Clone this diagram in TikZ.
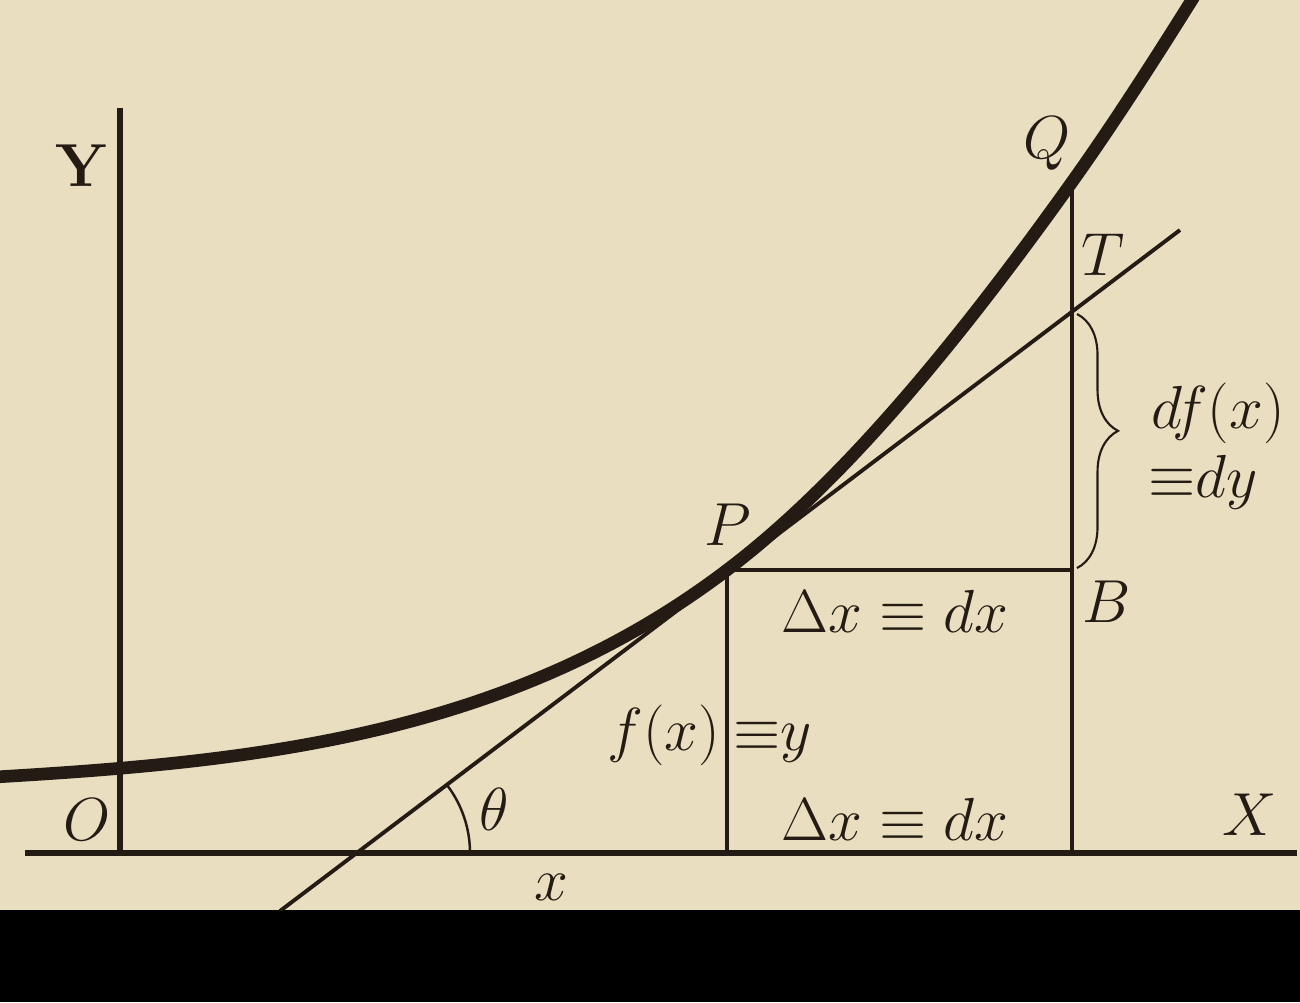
\documentclass[tikz,border=0pt]{standalone}
\usepackage{amsmath}
\usepackage{amssymb}
\usepackage{xcolor}
\usepackage{tikz}
\usetikzlibrary{positioning,calc,decorations.pathreplacing}
\definecolor{paper}{RGB}{233,222,192}
\definecolor{ink}{RGB}{36,28,20}

\begin{document}
\begin{tikzpicture}[x=0.01cm, y=-0.01cm,
	lbl/.style={inner sep=0pt, anchor=base, text=ink, font=\fontsize{18}{20}\selectfont},
	axis/.style={draw=ink, line width=1.5pt},
	rule/.style={draw=ink, line width=1.1pt},
	graph/.style={draw=ink, line width=3.6pt}]
	\useasboundingbox (0,0) rectangle (1300,1002);
	\fill[paper] (0,0) rectangle (1300,910);
	\fill[black] (0,910) rectangle (1300,1002);

	\coordinate (o) at (120,853);
	\coordinate (ytop) at (120,108);
	\coordinate (xl) at (25,853);
	\coordinate (xr) at (1297,853);
	\coordinate (p) at (727,570);
	\coordinate (q) at (1072,182);
	\coordinate (t) at (1072,312);
	\coordinate (b) at (1072,570);
	\coordinate (pf) at (727,853);
	\coordinate (bf) at (1072,853);
	\coordinate (a) at (358,853);
	\coordinate (tanlo) at (280,911);
	\coordinate (tanhi) at (1180,230);
	\coordinate (cstart) at (-5,777);
	\coordinate (cend) at (1195,-5);

	\begin{scope}
		\clip (0,0) rectangle (1300,910);
		\draw[axis] (xl) -- (xr);
		\draw[axis] (o) -- (ytop);
		\draw[rule] (p) -- (pf);
		\draw[rule] (q) -- (bf);
		\draw[rule, line width=1.4pt] (p) -- (b);
		\draw[rule] (tanlo) -- (tanhi);
		\draw[draw=ink, line width=0.7pt] ($(a)+(112,0)$) arc[start angle=0, end angle=-37.2, radius=112];
		\draw[graph] (cstart) .. controls (250,762) and (507,737) .. (p)
			.. controls (842,483) and (957,343) .. (q)
			.. controls (1112,126) and (1155,59) .. (cend);
		\draw[draw=ink, line width=0.6pt, decorate, decoration={brace, amplitude=0.41cm, aspect=0.46}] ($(t)+(5,2)$) -- ($(b)+(5,-2)$);
	\end{scope}

	\node[lbl] (ylab) at (82,186) {$\mathbf{Y}$};
	\node[lbl] (olab) at (87,840) {$O$};
	\node[lbl] (xlab) at (1250,835) {$X$};
	\node[lbl] (plab) at (728,545) {$P$};
	\node[lbl] (qlab) at (1047,158) {$Q$};
	\node[lbl] (tlab) at (1103,275) {$T$};
	\node[lbl] (blab) at (1107,622) {$B$};
	\node[lbl] (thlab) at (494,830) {$\theta$};
	\node[lbl] (xvar) at (551,900) {$x$};
	\node[lbl] (dxtop) at (895,632) {$\Delta x \equiv dx$};
	\node[lbl] (dxbot) at (895,840) {$\Delta x \equiv dx$};
	\node[lbl, anchor=base east] (fx) at (721,750) {$f(x)$};
	\node[lbl, anchor=base west] (eqy) at (733,750) {${\equiv}y$};
	\node[lbl] (dfx) at (1218,428) {$df(x)$};
	\node[lbl] (eqdy) at (1203,497) {${\equiv}dy$};
\end{tikzpicture}
\end{document}
